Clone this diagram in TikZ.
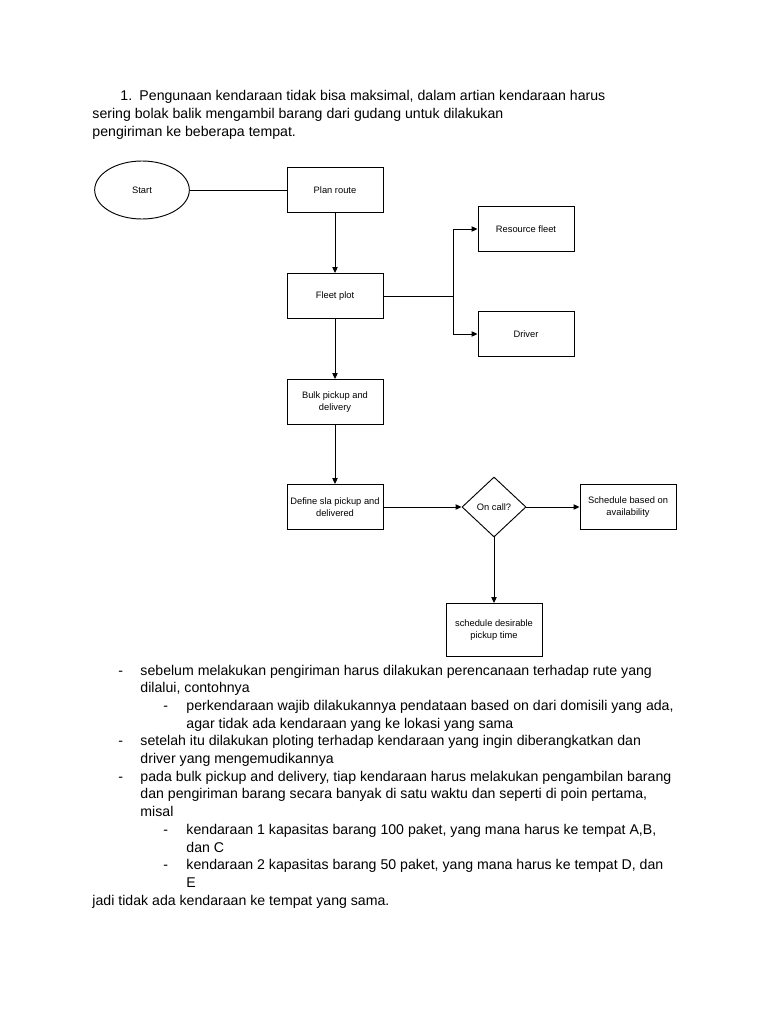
\documentclass[tikz,border=0pt]{standalone}
\usepackage{fontspec}
\setmainfont{Liberation Sans}
\usetikzlibrary{shapes.geometric,arrows.meta}

\begin{document}
\begin{tikzpicture}[x=0.75pt,y=-0.75pt,line width=0.7pt,
    >={Triangle[length=4.5pt,width=4pt]},
    box/.style={draw,rectangle,minimum width=72pt,minimum height=33.75pt,
      inner sep=1pt,align=center,font=\fontsize{7}{8.5}\selectfont},
    oval/.style={draw,ellipse,minimum width=71pt,minimum height=43.5pt,
      inner sep=0pt,font=\fontsize{7}{8.5}\selectfont},
    decide/.style={draw,diamond,minimum width=48pt,minimum height=45pt,
      inner sep=0pt,font=\fontsize{7}{8.5}\selectfont},
    txt/.style={anchor=base west,inner sep=0pt,font=\fontsize{10.6}{13}\selectfont}]
  \useasboundingbox (0,0) rectangle (768,1024);
  \fill[white] (0,0) rectangle (768,1024);

  % heading
  \path
    (120,100) node[txt] (num){1.}
    (139,100) node[txt] (h1){Pengunaan kendaraan tidak bisa maksimal, dalam artian kendaraan harus}
    (92,118.5) node[txt] (h2){sering bolak balik mengambil barang dari gudang untuk dilakukan}
    (92,136.5) node[txt] (h3){pengiriman ke beberapa tempat.};

  % flowchart
  \draw
    (142,190) node[oval] (start){Start}
    (335,190) node[box] (plan){Plan route}
    (335,296) node[box] (fleet){Fleet plot}
    (335,402) node[box] (bulk){Bulk pickup and\\delivery}
    (526,229) node[box] (resource){Resource fleet}
    (526,334) node[box] (driver){Driver}
    (335,507) node[box] (define){Define sla pickup and\\delivered}
    (494,507) node[decide] (oncall){On call?}
    (628,507) node[box] (sched){Schedule based on\\availability}
    (494,630) node[box,minimum height=39.75pt] (desire){schedule desirable\\pickup time};
  \coordinate (split) at (453,296);
  \begin{scope}[-]
    \draw (start) to (plan);
    \draw (fleet) to (split);
  \end{scope}
  \begin{scope}[->]
    \draw (plan) to (fleet);
    \draw (fleet) to (bulk);
    \draw (split) |- (resource);
    \draw (split) |- (driver);
    \draw (bulk) to (define);
    \draw (define) to (oncall);
    \draw (oncall) to (sched);
    \draw (oncall) to (desire);
  \end{scope}

  % notes
  \path
    (118,675) node[txt] (d1){-}
    (140,675) node[txt] (b1){sebelum melakukan pengiriman harus dilakukan perencanaan terhadap rute yang}
    (140,692.7) node[txt] (b2){dilalui, contohnya}
    (163,710.4) node[txt] (d2){-}
    (186,710.4) node[txt] (b3){perkendaraan wajib dilakukannya pendataan based on dari domisili yang ada,}
    (186,728.1) node[txt] (b4){agar tidak ada kendaraan yang ke lokasi yang sama}
    (118,745.8) node[txt] (d3){-}
    (140,745.8) node[txt] (b5){setelah itu dilakukan ploting terhadap kendaraan yang ingin diberangkatkan dan}
    (140,763.5) node[txt] (b6){driver yang mengemudikannya}
    (118,781.2) node[txt] (d4){-}
    (140,781.2) node[txt] (b7){pada bulk pickup and delivery, tiap kendaraan harus melakukan pengambilan barang}
    (140,798.9) node[txt] (b8){dan pengiriman barang secara banyak di satu waktu dan seperti di poin pertama,}
    (140,816.6) node[txt] (b9){misal}
    (163,834.3) node[txt] (d5){-}
    (186,834.3) node[txt] (b10){kendaraan 1 kapasitas barang 100 paket, yang mana harus ke tempat A,B,}
    (186,852) node[txt] (b11){dan C}
    (163,869.7) node[txt] (d6){-}
    (186,869.7) node[txt] (b12){kendaraan 2 kapasitas barang 50 paket, yang mana harus ke tempat D, dan}
    (186,887.4) node[txt] (b13){E}
    (92,905.1) node[txt] (b14){jadi tidak ada kendaraan ke tempat yang sama.};
\end{tikzpicture}
\end{document}
